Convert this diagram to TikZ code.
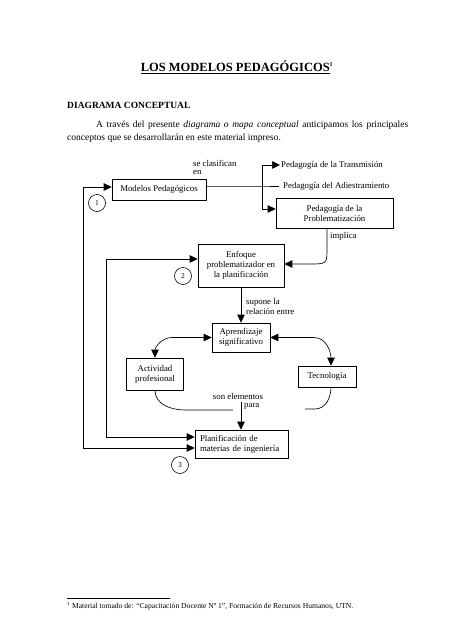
\documentclass[tikz,border=0pt]{standalone}
\usepackage{fontspec}
\setmainfont{Liberation Serif}
\usetikzlibrary{arrows.meta}
\begin{document}
\begin{tikzpicture}[x=1pt,y=-1pt,
  every node/.style={font=\fontsize{8.8}{10}\selectfont, inner sep=0pt},
  box/.style={draw, line width=0.6pt, align=center, font=\fontsize{8.8}{10}\selectfont},
  num/.style={draw, circle, line width=0.6pt, minimum size=17pt, font=\fontsize{7.5}{8}\selectfont},
  lbl/.style={align=left, font=\fontsize{8.8}{10}\selectfont},
  conn/.style={line width=0.65pt},
  tip/.style={-{Triangle[length=8pt,width=7.5pt]}},
  tips/.style={{Triangle[length=8pt,width=7.5pt]}-{Triangle[length=8pt,width=7.5pt]}}
]
\useasboundingbox[fill=white] (0,0) rectangle (474,632);

% header
\node[font=\fontsize{12.5}{14}\selectfont\bfseries] (title) at (237,67) {\underline{LOS MODELOS PEDAGÓGICOS}\textsuperscript{\fontsize{6}{6}\selectfont 1}};
\node[anchor=west, font=\fontsize{9.5}{11}\selectfont\bfseries] (sub) at (67,105) {DIAGRAMA CONCEPTUAL};
\node[anchor=west, font=\fontsize{9.5}{11}\selectfont] (p1) at (96,125) {\makebox[312pt][s]{A través del presente \textit{diagrama o mapa conceptual} anticipamos los principales}};
\node[anchor=west, font=\fontsize{9.5}{11}\selectfont] (p2) at (67,138) {conceptos que se desarrollarán en este material impreso.};

% boxes
\node[box, minimum width=94pt, minimum height=21pt] (modelos) at (159,189.5) {Modelos Pedagógicos};
\node[anchor=west] (transm) at (281,165) {Pedagogía de la Transmisión};
\node[anchor=west] (adiestr) at (283,186) {Pedagogía del Adiestramiento};
\node[box, minimum width=117pt, minimum height=30pt] (probl) at (334.5,213) {Pedagogía de la\\Problematización};
\node[box, minimum width=86pt, minimum height=43pt] (enfoque) at (241,265.5) {Enfoque\\problematizador en\\la planificación};
\node[box, minimum width=58pt, minimum height=29pt] (aprend) at (241,337.5) {Aprendizaje\\significativo};
\node[box, minimum width=57pt, minimum height=32pt] (activ) at (155,374) {Actividad\\profesional};
\node[box, minimum width=58pt, minimum height=21pt] (tecno) at (327,376.5) {Tecnología};
\node[box, minimum width=93pt, minimum height=28pt, align=left, text width=83pt] (planif) at (241.5,444) {Planificación de\\materias de ingeniería};

% circles
\node[num] (c1) at (97,203) {1};
\node[num] (c2) at (183,276) {2};
\node[num] (c3) at (180,465) {3};

% labels
\node[lbl, anchor=north west] (seclas) at (193,160) {se clasifican\\[-2pt]en};
\node[lbl, anchor=west] (implica) at (330,236) {implica};
\node[lbl, anchor=west] (supone) at (246,306) {supone la\\relación entre};
\node[lbl] (sonel) at (238,396) {son elementos};
\node[lbl, anchor=west] (para) at (244,406.5) {para};

% connectors
\coordinate (split) at (262,186);
\draw[conn] (modelos.east |- split) -- (split) -- ([xshift=-4pt]adiestr.west);
\draw[conn, tip] (262,165) -- ([xshift=-1pt]transm.west);
\draw[conn] (262,165) -- (262,209);
\draw[conn, tip] (262,209) -- (probl.west |- 262,209);

\coordinate (imp) at (327,248);
\draw[conn, tip] (probl.south -| imp) -- (imp) .. controls (327,264) .. (309,264) -- (enfoque.east |- 0,264);

\draw[conn, tip] (enfoque.south) -- (aprend.north);

\draw[conn, tips] (aprend.west) -- (172,337.5) to[out=180,in=90] (activ.north);
\draw[conn, tips] (aprend.east) -- (314,337.5) to[out=0,in=90] (tecno.north -| 331,0);

\coordinate (jl) at (233,410);
\coordinate (jr) at (305,409);
\draw[conn] (activ.south) to[out=-90,in=180] (185,410) -- (jl);
\draw[conn] (tecno.south -| 331,0) to[out=-90,in=0] (315,409) -- (jr);
\coordinate (jv) at (241,402);
\draw[conn, tip] (jv) -- (planif.north -| jv);

\draw[conn, tips] (enfoque.west |- 0,259) -- (106,259) -- (106,437) -- (planif.west |- 0,437);
\draw[conn, tips] (modelos.west |- 0,187) -- (83,187) -- (83,448) -- (planif.west |- 0,448);

% footnote
\draw[line width=0.5pt] (67,598) -- (170,598);
\node[anchor=west, font=\fontsize{7.6}{9}\selectfont] (fn) at (67,606) {\textsuperscript{\fontsize{5}{5}\selectfont 1} Material tomado de: “Capacitación Docente Nº 1”, Formación de Recursos Humanos, UTN.};
\end{tikzpicture}
\end{document}
